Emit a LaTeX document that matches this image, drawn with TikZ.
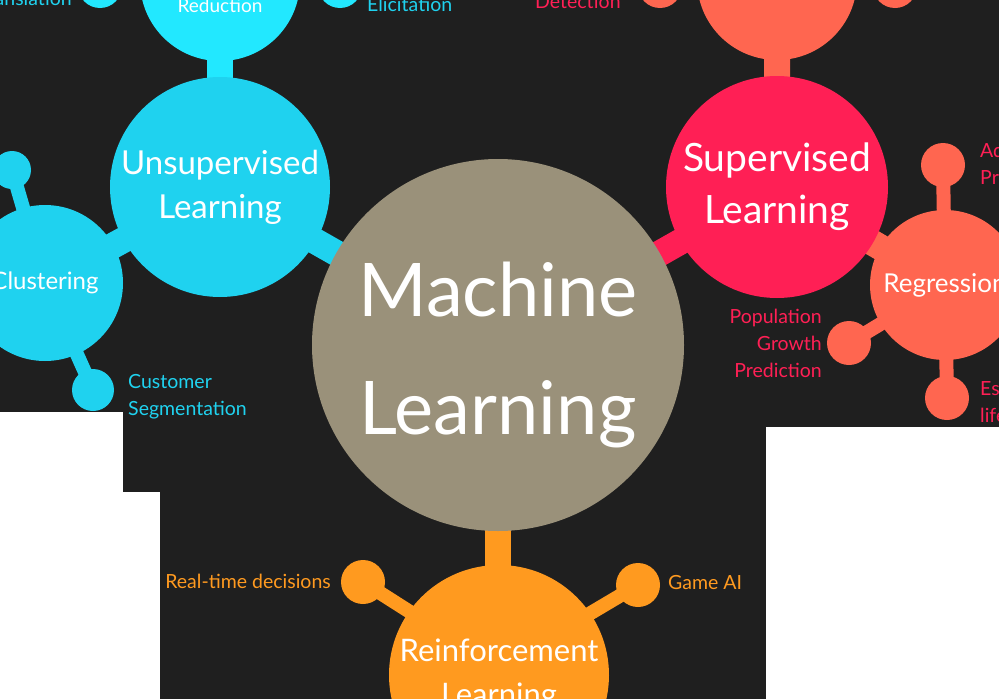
\documentclass[tikz,border=0pt]{standalone}
\usepackage{fontspec}
\setmainfont{Lato}
\begin{document}
\begin{tikzpicture}[x=1pt,y=-1pt,
  circ/.style={circle,inner sep=0pt,align=center,text=white},
  lbl/.style={inner sep=0pt,font=\fontsize{19.5}{27}\selectfont},
  stem/.style={line width=#1},
]
\definecolor{bg}{HTML}{1F1F1F}
\definecolor{mlc}{HTML}{9A917A}
\definecolor{cy}{HTML}{1FD2EF}
\definecolor{cyb}{HTML}{22E8FF}
\definecolor{rd}{HTML}{FF1F55}
\definecolor{orr}{HTML}{FF6650}
\definecolor{org}{HTML}{FF9A1F}
\useasboundingbox (0,0) rectangle (999,699);
\clip (0,0) rectangle (999,699);
\fill[bg] (0,0) rectangle (999,699);
\fill[white] (0,412) rectangle (123,699);
\fill[white] (0,492) rectangle (160,699);
\fill[white] (766,427) rectangle (999,699);
\coordinate (ml) at (498,345);
\coordinate (un) at (220,187);
\coordinate (dr) at (220,-19);
\coordinate (tl) at (100,-14);
\coordinate (tr) at (340,-14);
\coordinate (cl) at (45,283);
\coordinate (c1) at (12,170);
\coordinate (c2) at (93,390);
\coordinate (su) at (777,187);
\coordinate (ad) at (777,-20);
\coordinate (a1) at (660,-14);
\coordinate (a2) at (895,-14);
\coordinate (re) at (945,285);
\coordinate (r1) at (943,165);
\coordinate (r2) at (849,343);
\coordinate (r3) at (947,398);
\coordinate (rl) at (498,668);
\coordinate (q1) at (363,582);
\coordinate (q2) at (638,585);
\draw[stem=26pt,cy] (ml) -- (un);
\draw[stem=26pt,cyb] (un) -- (dr);
\draw[stem=14pt,cyb] (dr) -- (tl) (dr) -- (tr);
\draw[stem=26pt,cy] (un) -- (cl);
\draw[stem=14pt,cy] (cl) -- (c1) (cl) -- (c2);
\draw[stem=26pt,rd] (ml) -- (su);
\draw[stem=26pt,orr] (su) -- (ad) (su) -- (re);
\draw[stem=14pt,orr] (ad) -- (a1) (ad) -- (a2);
\draw[stem=14pt,orr] (re) -- (r1) (re) -- (r2) (re) -- (r3);
\draw[stem=26pt,org] (ml) -- (rl);
\draw[stem=14pt,org] (rl) -- (q1) (rl) -- (q2);
\fill[cyb] (dr) circle (80) (tl) circle (22) (tr) circle (22);
\fill[cy] (c1) circle (19) (c2) circle (21);
\fill[orr] (ad) circle (80) (a1) circle (22) (a2) circle (22);
\fill[orr] (r1) circle (22) (r2) circle (22) (r3) circle (22);
\fill[org] (q1) circle (22) (q2) circle (22);
\node[circ,fill=cy,minimum size=220pt,font=\fontsize{33}{44}\selectfont] (U) at (un) {Unsupervised\\Learning};
\node[circ,fill=cy,minimum size=156pt,font=\fontsize{24}{30}\selectfont] (C) at (cl) {Clustering};
\node[circ,fill=rd,minimum size=222pt,font=\fontsize{39}{52}\selectfont] (S) at (su) {Supervised\\Learning};
\node[circ,fill=orr,minimum size=150pt,font=\fontsize{26}{30}\selectfont] (R) at (re) {Regression};
\node[circ,fill=org,minimum size=220pt,font=\fontsize{31}{44}\selectfont] (L) at (499,675) {Reinforcement\\Learning};
\node[circ,fill=mlc,minimum size=372pt] (M) at (ml) {};
\node[text=white,font=\fontsize{74}{118}\selectfont,align=center,inner sep=0pt] (MT) at (498,355) {Machine\\Learning};
\node[text=white,font=\fontsize{19}{20}\selectfont,inner sep=0pt] (DR) at (220,6) {Reduction};
\node[lbl,text=cy,anchor=east] (tlab) at (72,-2) {Translation};
\node[lbl,text=cy,anchor=west] (elab) at (367,4) {Elicitation};
\node[lbl,text=rd,anchor=west] (dlab) at (535,1) {Detection};
\node[lbl,text=cy,anchor=west,align=left] (cs) at (128,397) {Customer\\Segmentation};
\node[lbl,text=rd,anchor=east,align=right] (pg) at (822,343) {Population\\Growth\\Prediction};
\node[lbl,text=rd,anchor=west,align=left] (ap) at (980,164) {Advertising\\Prediction};
\node[lbl,text=rd,anchor=west,align=left] (el) at (980,402) {Estimating\\life};
\node[lbl,text=org,anchor=east] (rt) at (331,581) {Real-time decisions};
\node[lbl,text=org,anchor=west] (ga) at (668,583) {Game AI};
\end{tikzpicture}
\end{document}
